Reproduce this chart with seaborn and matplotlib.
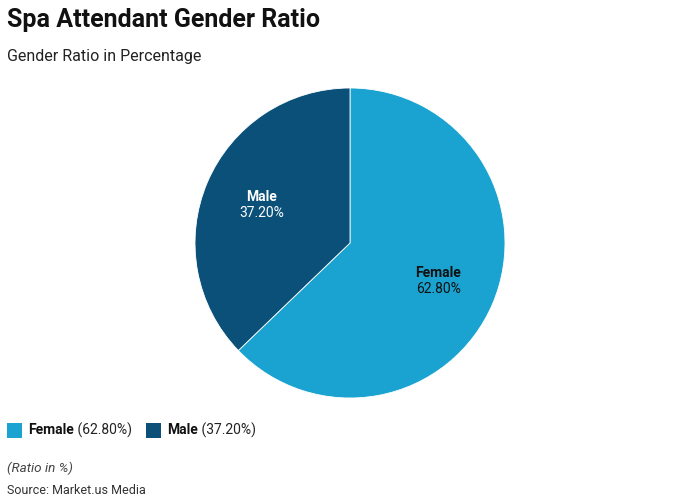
import matplotlib

matplotlib.use("Agg")

import matplotlib.pyplot as plt
import numpy as np
import seaborn as sns
from matplotlib.patches import Rectangle

sns.set_theme(style="white")
plt.rcParams["font.family"] = ["Roboto", "DejaVu Sans"]

CATEGORIES = ["Female", "Male"]
VALUES = [62.80, 37.20]
COLORS = ["#1aa3d0", "#0a5079"]

TITLE = "Spa Attendant Gender Ratio"
SUBTITLE = "Gender Ratio in Percentage"
NOTE = "(Ratio in %)"
SOURCE = "Source: Market.us Media"


def main() -> None:
    fig = plt.figure(figsize=(7.0, 5.03), dpi=100)
    W, H = 700, 503

    # pie centred at (350, 243) px, radius 155 px
    cx, cy, r = 350, 243, 155
    ax = fig.add_axes([(cx - r) / W, (H - cy - r) / H, 2 * r / W, 2 * r / H])
    wedges, _ = ax.pie(
        VALUES,
        colors=COLORS,
        startangle=90,
        counterclock=False,
        wedgeprops={"edgecolor": "white", "linewidth": 0.6},
    )
    ax.set_xlim(-1, 1)
    ax.set_ylim(-1, 1)
    ax.set_aspect("equal")
    ax.axis("off")

    for wedge, name, val in zip(wedges, CATEGORIES, VALUES):
        mid = np.deg2rad((wedge.theta1 + wedge.theta2) / 2)
        x, y = 0.62 * np.cos(mid), 0.62 * np.sin(mid)
        color = "white" if name == "Male" else "#111111"
        ax.text(x, y + 0.052, name, ha="center", va="center", fontsize=10,
                fontweight="bold", color=color)
        ax.text(x, y - 0.052, f"{val:.2f}%", ha="center", va="center", fontsize=10,
                color=color)

    fig.text(7 / W, 1 - 20 / H, TITLE, fontsize=18, fontweight="bold",
             ha="left", va="center", color="#111111")
    fig.text(7 / W, 1 - 56 / H, SUBTITLE, fontsize=11.5, ha="left", va="center",
             color="#222222")

    # legend drawn by hand: bold name + regular percentage
    fig.canvas.draw()
    renderer = fig.canvas.get_renderer()
    x = 7
    ly = 430
    for name, val, color in zip(CATEGORIES, VALUES, COLORS):
        fig.patches.append(Rectangle((x / W, 1 - (ly + 7.5) / H), 15 / W, 15 / H,
                                     transform=fig.transFigure, facecolor=color,
                                     edgecolor="none"))
        x += 21
        t1 = fig.text(x / W, 1 - ly / H, name, fontsize=10, fontweight="bold",
                      ha="left", va="center", color="#111111")
        x += t1.get_window_extent(renderer).width
        t2 = fig.text(x / W, 1 - ly / H, f" ({val:.2f}%)", fontsize=10,
                      ha="left", va="center", color="#222222")
        x += t2.get_window_extent(renderer).width + 14

    fig.text(7 / W, 1 - 468 / H, NOTE, fontsize=9.7, style="italic",
             ha="left", va="center", color="#444444")
    fig.text(7 / W, 1 - 490 / H, SOURCE, fontsize=9, ha="left", va="center",
             color="#333333")

    fig.savefig("out.png", dpi=100, facecolor="white")
    plt.close(fig)


if __name__ == "__main__":
    main()
